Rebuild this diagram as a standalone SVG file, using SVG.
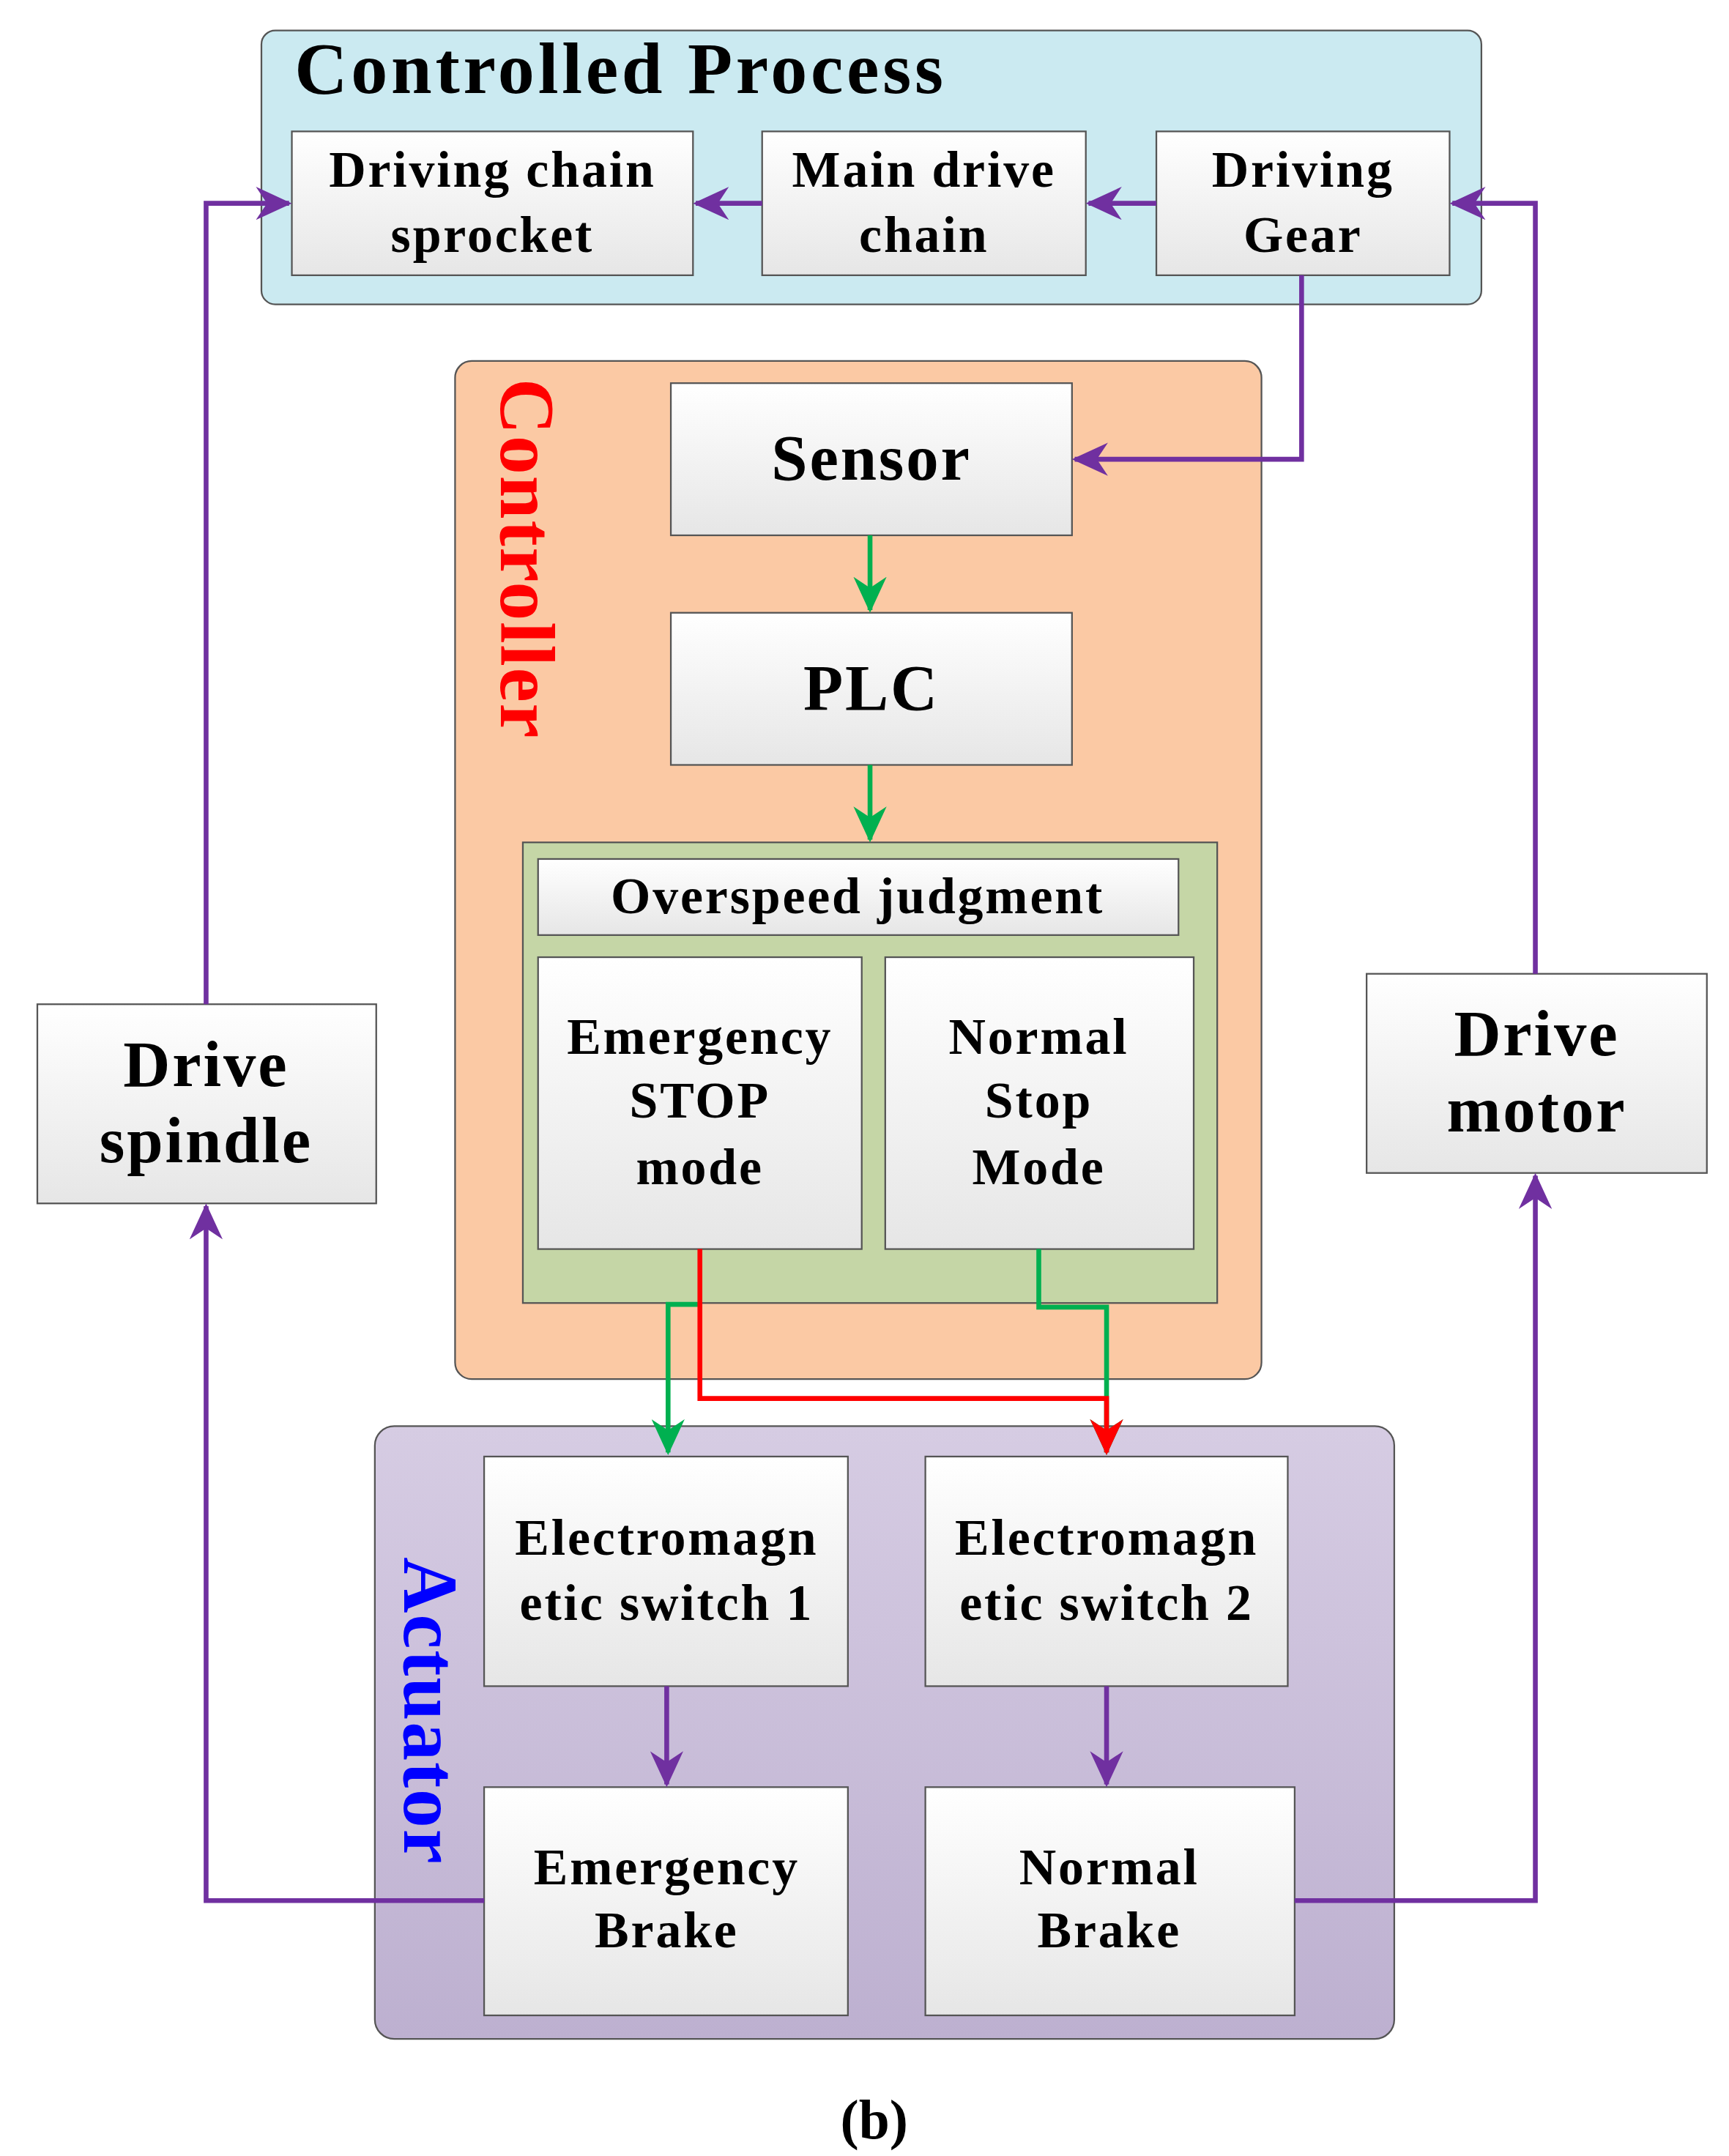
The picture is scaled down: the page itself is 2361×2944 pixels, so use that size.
<svg xmlns="http://www.w3.org/2000/svg" width="2361" height="2944" viewBox="0 0 2361 2944">
<defs>
<linearGradient id="bg" x1="0" y1="0" x2="0" y2="1"><stop offset="0" stop-color="#ffffff"/><stop offset="1" stop-color="#e6e6e6"/></linearGradient>
<linearGradient id="act" x1="0" y1="0" x2="0" y2="1"><stop offset="0" stop-color="#d6cce3"/><stop offset="1" stop-color="#bdb0d0"/></linearGradient>
<marker id="ap" markerWidth="26" markerHeight="24" refX="24" refY="12" orient="auto" markerUnits="userSpaceOnUse" viewBox="0 0 26 24"><path d="M0,0L26,12L0,24L8,12z" fill="#7030a0"/></marker>
<marker id="ag" markerWidth="26" markerHeight="24" refX="24" refY="12" orient="auto" markerUnits="userSpaceOnUse" viewBox="0 0 26 24"><path d="M0,0L26,12L0,24L8,12z" fill="#00b050"/></marker>
<marker id="ar" markerWidth="26" markerHeight="24" refX="24" refY="12" orient="auto" markerUnits="userSpaceOnUse" viewBox="0 0 26 24"><path d="M0,0L26,12L0,24L8,12z" fill="#ff0000"/></marker>
</defs>
<style>
text{font-family:"Liberation Serif","DejaVu Serif",serif;font-weight:bold;text-anchor:middle;fill:#000}
.b{fill:url(#bg);stroke:#555;stroke-width:1.2}
.t{font-size:37px;letter-spacing:1.5px}
.l{font-size:47px;letter-spacing:1.5px}
.p{fill:none;stroke:#7030a0;stroke-width:3.5}
.g{fill:none;stroke:#00b050;stroke-width:3.5}
.r{fill:none;stroke:#ff0000;stroke-width:3.5}
</style>
<rect width="2361" height="2944" fill="#fff"/>
<g transform="scale(1.8888)">
<g id="controlled-process">
<rect x="189" y="22" width="882" height="198" rx="10" fill="#cbeaf1" stroke="#555" stroke-width="1.2"/>
<text x="213" y="67" style="text-anchor:start;font-size:53px;letter-spacing:2.5px">Controlled Process</text>
</g>
<g id="sprocket"><rect class="b" x="211" y="95" width="290" height="104"/><text class="t" x="356" y="135">Driving chain</text><text class="t" x="356" y="182">sprocket</text></g>
<g id="main-chain"><rect class="b" x="551" y="95" width="234" height="104"/><text class="t" x="668" y="135">Main drive</text><text class="t" x="668" y="182">chain</text></g>
<g id="gear"><rect class="b" x="836" y="95" width="212" height="104"/><text class="t" x="942" y="135">Driving</text><text class="t" x="942" y="182">Gear</text></g>
<g id="controller">
<rect x="329" y="261" width="583" height="736" rx="12" fill="#fbc9a4" stroke="#555" stroke-width="1.2"/>
<text transform="translate(362,404) rotate(90)" style="font-size:56px;letter-spacing:1px;fill:#ff0000">Controller</text>
</g>
<g id="sensor"><rect class="b" x="485" y="277" width="290" height="110"/><text class="l" x="630" y="347">Sensor</text></g>
<g id="plc"><rect class="b" x="485" y="443" width="290" height="110"/><text class="l" x="630" y="513">PLC</text></g>
<g id="judgment">
<rect x="378" y="609" width="502" height="333" fill="#c5d6a6" stroke="#555" stroke-width="1.2"/>
<rect class="b" x="389" y="621" width="463" height="55"/><text class="t" x="620" y="660">Overspeed judgment</text>
</g>
<g id="emergency-mode"><rect class="b" x="389" y="692" width="234" height="211"/><text class="t" x="506" y="762">Emergency</text><text class="t" x="506" y="808">STOP</text><text class="t" x="506" y="856">mode</text></g>
<g id="normal-mode"><rect class="b" x="640" y="692" width="223" height="211"/><text class="t" x="751" y="762">Normal</text><text class="t" x="751" y="808">Stop</text><text class="t" x="751" y="856">Mode</text></g>
<g id="actuator">
<rect x="271" y="1031" width="737" height="443" rx="14" fill="url(#act)" stroke="#555" stroke-width="1.2"/>
<text transform="translate(292,1237) rotate(90)" style="font-size:56px;letter-spacing:1px;fill:#0000ff">Actuator</text>
</g>
<g id="switch1"><rect class="b" x="350" y="1053" width="263" height="166"/><text class="t" x="482" y="1124">Electromagn</text><text class="t" x="482" y="1171">etic switch 1</text></g>
<g id="switch2"><rect class="b" x="669" y="1053" width="262" height="166"/><text class="t" x="800" y="1124">Electromagn</text><text class="t" x="800" y="1171">etic switch 2</text></g>
<g id="emergency-brake"><rect class="b" x="350" y="1292" width="263" height="165"/><text class="t" x="482" y="1362">Emergency</text><text class="t" x="482" y="1408">Brake</text></g>
<g id="normal-brake"><rect class="b" x="669" y="1292" width="267" height="165"/><text class="t" x="802" y="1362">Normal</text><text class="t" x="802" y="1408">Brake</text></g>
<g id="drive-spindle"><rect class="b" x="27" y="726" width="245" height="144"/><text class="l" x="149" y="785">Drive</text><text class="l" x="149" y="840">spindle</text></g>
<g id="drive-motor"><rect class="b" x="988" y="704" width="246" height="144"/><text class="l" x="1111" y="763">Drive</text><text class="l" x="1111" y="818">motor</text></g>
<g id="connectors">
<path class="p" d="M551,147H503" marker-end="url(#ap)"/>
<path class="p" d="M836,147H787" marker-end="url(#ap)"/>
<path class="p" d="M941,199V332H777" marker-end="url(#ap)"/>
<path class="g" d="M629,387V441" marker-end="url(#ag)"/>
<path class="g" d="M629,553V607" marker-end="url(#ag)"/>
<path class="g" d="M751,903V945H800V1050" marker-end="url(#ag)"/>
<path class="g" d="M506,943H483V1050" marker-end="url(#ag)"/>
<path class="r" d="M506,903V1011H800V1050" marker-end="url(#ar)"/>
<path class="p" d="M482,1219V1290" marker-end="url(#ap)"/>
<path class="p" d="M800,1219V1290" marker-end="url(#ap)"/>
<path class="p" d="M350,1374H149V872" marker-end="url(#ap)"/>
<path class="p" d="M149,726V147H209" marker-end="url(#ap)"/>
<path class="p" d="M936,1374H1110V850" marker-end="url(#ap)"/>
<path class="p" d="M1110,704V147H1050" marker-end="url(#ap)"/>
</g>
<text x="632" y="1546" style="font-size:40px">(b)</text>
</g>
</svg>
